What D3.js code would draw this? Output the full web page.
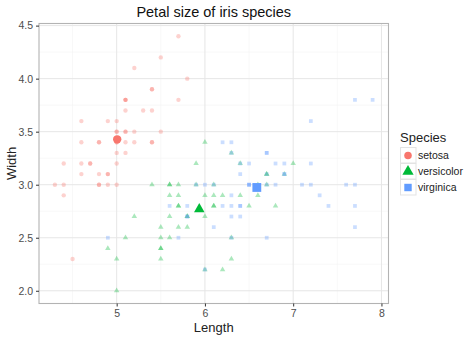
<!DOCTYPE html>
<html><head><meta charset="utf-8">
<script src="https://cdn.jsdelivr.net/npm/d3@7"></script>
<style>body{margin:0;background:#fff}svg{display:block;font-family:"Liberation Sans",Arial,sans-serif}</style>
</head><body><svg id="c" width="474" height="338"></svg>
<script>
const species = ["setosa","versicolor","virginica"];
const colors = ["#F8766D","#00BA38","#619CFF"];
const setosaLength = [5.1,4.9,4.7,4.6,5.0,5.4,4.6,5.0,4.4,4.9,5.4,4.8,4.8,4.3,5.8,5.7,5.4,5.1,5.7,5.1,5.4,5.1,4.6,5.1,4.8,5.0,5.0,5.2,5.2,4.7,4.8,5.4,5.2,5.5,4.9,5.0,5.5,4.9,4.4,5.1,5.0,4.5,4.4,5.0,5.1,4.8,5.1,4.6,5.3,5.0];
const setosaWidth = [3.5,3.0,3.2,3.1,3.6,3.9,3.4,3.4,2.9,3.1,3.7,3.4,3.0,3.0,4.0,4.4,3.9,3.5,3.8,3.8,3.4,3.7,3.6,3.3,3.4,3.0,3.4,3.5,3.4,3.2,3.1,3.4,4.1,4.2,3.1,3.2,3.5,3.6,3.0,3.4,3.5,2.3,3.2,3.5,3.8,3.0,3.8,3.2,3.7,3.3];
const versicolorLength = [7.0,6.4,6.9,5.5,6.5,5.7,6.3,4.9,6.6,5.2,5.0,5.9,6.0,6.1,5.6,6.7,5.6,5.8,6.2,5.6,5.9,6.1,6.3,6.1,6.4,6.6,6.8,6.7,6.0,5.7,5.5,5.5,5.8,6.0,5.4,6.0,6.7,6.3,5.6,5.5,5.5,6.1,5.8,5.0,5.6,5.7,5.7,6.2,5.1,5.7];
const versicolorWidth = [3.2,3.2,3.1,2.3,2.8,2.8,3.3,2.4,2.9,2.7,2.0,3.0,2.2,2.9,2.9,3.1,3.0,2.7,2.2,2.5,3.2,2.8,2.5,2.8,2.9,3.0,2.8,3.0,2.9,2.6,2.4,2.4,2.7,2.7,3.0,3.4,3.1,2.3,3.0,2.5,2.6,3.0,2.6,2.3,2.7,3.0,2.9,2.9,2.5,2.8];
const virginicaLength = [6.3,5.8,7.1,6.3,6.5,7.6,4.9,7.3,6.7,7.2,6.5,6.4,6.8,5.7,5.8,6.4,6.5,7.7,7.7,6.0,6.9,5.6,7.7,6.3,6.7,7.2,6.2,6.1,6.4,7.2,7.4,7.9,6.4,6.3,6.1,7.7,6.3,6.4,6.0,6.9,6.7,6.9,5.8,6.8,6.7,6.7,6.3,6.5,6.2,5.9];
const virginicaWidth = [3.3,2.7,3.0,2.9,3.0,3.0,2.5,2.9,2.5,3.6,3.2,2.7,3.0,2.5,2.8,3.2,3.0,3.8,2.6,2.2,3.2,2.8,2.8,2.7,3.3,3.2,2.8,3.0,2.8,3.0,2.8,3.8,2.8,2.8,2.6,3.0,3.4,3.1,3.0,3.1,3.1,3.1,2.7,3.2,3.3,3.0,2.5,3.0,3.4,3.0];
const xTicks = [5,6,7,8];
const yTicks = [2.0,2.5,3.0,3.5,4.0,4.5];
const xMinor = [4.5,5.5,6.5,7.5];
const yMinor = [2.25,2.75,3.25,3.75,4.25];

const lengths = [setosaLength, versicolorLength, virginicaLength];
const widths = [setosaWidth, versicolorWidth, virginicaWidth];
const points = [];
species.forEach((s,i)=>lengths[i].forEach((l,j)=>points.push({s, i, x:l, y:widths[i][j]})));
const centroids = species.map((s,i)=>({s, i, x:d3.mean(lengths[i]), y:d3.mean(widths[i])}));

const svg = d3.select("#c");
const L=39, R=388.5, T=23.5, B=303.5;
const allX = points.map(d=>d.x), allY = points.map(d=>d.y);
const [x0,x1] = d3.extent(allX), [y0,y1] = d3.extent(allY);
const ex=(x1-x0)*0.05, ey=(y1-y0)*0.05;
const x = d3.scaleLinear().domain([x0-ex,x1+ex]).range([L,R]);
const y = d3.scaleLinear().domain([y0-ey,y1+ey]).range([B,T]);

const g = svg.append("g");
g.selectAll(".xm").data(xMinor).join("line").attr("x1",d=>x(d)).attr("x2",d=>x(d)).attr("y1",T).attr("y2",B).attr("stroke","#f4f4f4").attr("stroke-width",0.6);
g.selectAll(".ym").data(yMinor).join("line").attr("y1",d=>y(d)).attr("y2",d=>y(d)).attr("x1",L).attr("x2",R).attr("stroke","#f4f4f4").attr("stroke-width",0.6);
g.selectAll(".xg").data(xTicks).join("line").attr("x1",d=>x(d)).attr("x2",d=>x(d)).attr("y1",T).attr("y2",B).attr("stroke","#e6e6e6").attr("stroke-width",1);
g.selectAll(".yg").data(yTicks).join("line").attr("y1",d=>y(d)).attr("y2",d=>y(d)).attr("x1",L).attr("x2",R).attr("stroke","#e6e6e6").attr("stroke-width",1);

function shape(i, size){
  const t = [d3.symbolCircle, d3.symbolTriangle, d3.symbolSquare][i];
  return d3.symbol().type(t).size(size)();
}
g.selectAll(".pt").data(points).join("path")
  .attr("transform",d=>`translate(${x(d.x)},${y(d.y)})`)
  .attr("d",d=>shape(d.i, [15,13,14][d.i]))
  .attr("fill",d=>colors[d.i]).attr("fill-opacity",0.33);
g.selectAll(".ct").data(centroids).join("path")
  .attr("transform",d=>`translate(${x(d.x)},${y(d.y)})`)
  .attr("d",d=>shape(d.i, [55,48,78][d.i]))
  .attr("fill",d=>colors[d.i]);

svg.append("rect").attr("x",L).attr("y",T).attr("width",R-L).attr("height",B-T).attr("fill","none").attr("stroke","#b3b3b3").attr("stroke-width",1.1);

const xa = svg.append("g").attr("transform",`translate(0,${B})`).call(d3.axisBottom(x).tickValues(xTicks).tickFormat(d3.format("d")).tickSize(3).tickPadding(3));
const ya = svg.append("g").attr("transform",`translate(${L},0)`).call(d3.axisLeft(y).tickValues(yTicks).tickFormat(d3.format(".1f")).tickSize(3).tickPadding(3));
[xa,ya].forEach(a=>{a.select(".domain").remove();a.selectAll(".tick line").attr("stroke","#333");a.selectAll("text").attr("fill","#4d4d4d").style("font-size","10.5px").style("font-family","Liberation Sans, Arial, sans-serif");});

svg.append("text").attr("x",(L+R)/2).attr("y",332).attr("text-anchor","middle").style("font-size","13px").attr("fill","#222").text("Length");
svg.append("text").attr("transform",`translate(16,${(T+B)/2}) rotate(-90)`).attr("text-anchor","middle").style("font-size","13px").attr("fill","#222").text("Width");
svg.append("text").attr("x",(L+R)/2).attr("y",17).attr("text-anchor","middle").style("font-size","14.5px").attr("fill","#111").text("Petal size of iris species");

const lg = svg.append("g").attr("transform","translate(400,0)");
lg.append("text").attr("x",0).attr("y",142).style("font-size","13px").attr("fill","#222").text("Species");
const rows = lg.selectAll(".row").data(species).join("g").attr("transform",(d,i)=>`translate(0,${147+i*16})`);
rows.append("rect").attr("x",0.5).attr("y",0.5).attr("width",15.5).attr("height",15.5).attr("fill","#fff").attr("stroke","#e3e3e3");
rows.append("path").attr("transform","translate(8,8.5)").attr("d",(d,i)=>shape(i,[45,55,55][i])).attr("fill",(d,i)=>colors[i]);
rows.append("text").attr("x",18).attr("y",12).style("font-size","10.5px").attr("fill","#222").text(d=>d);
</script></body></html>
